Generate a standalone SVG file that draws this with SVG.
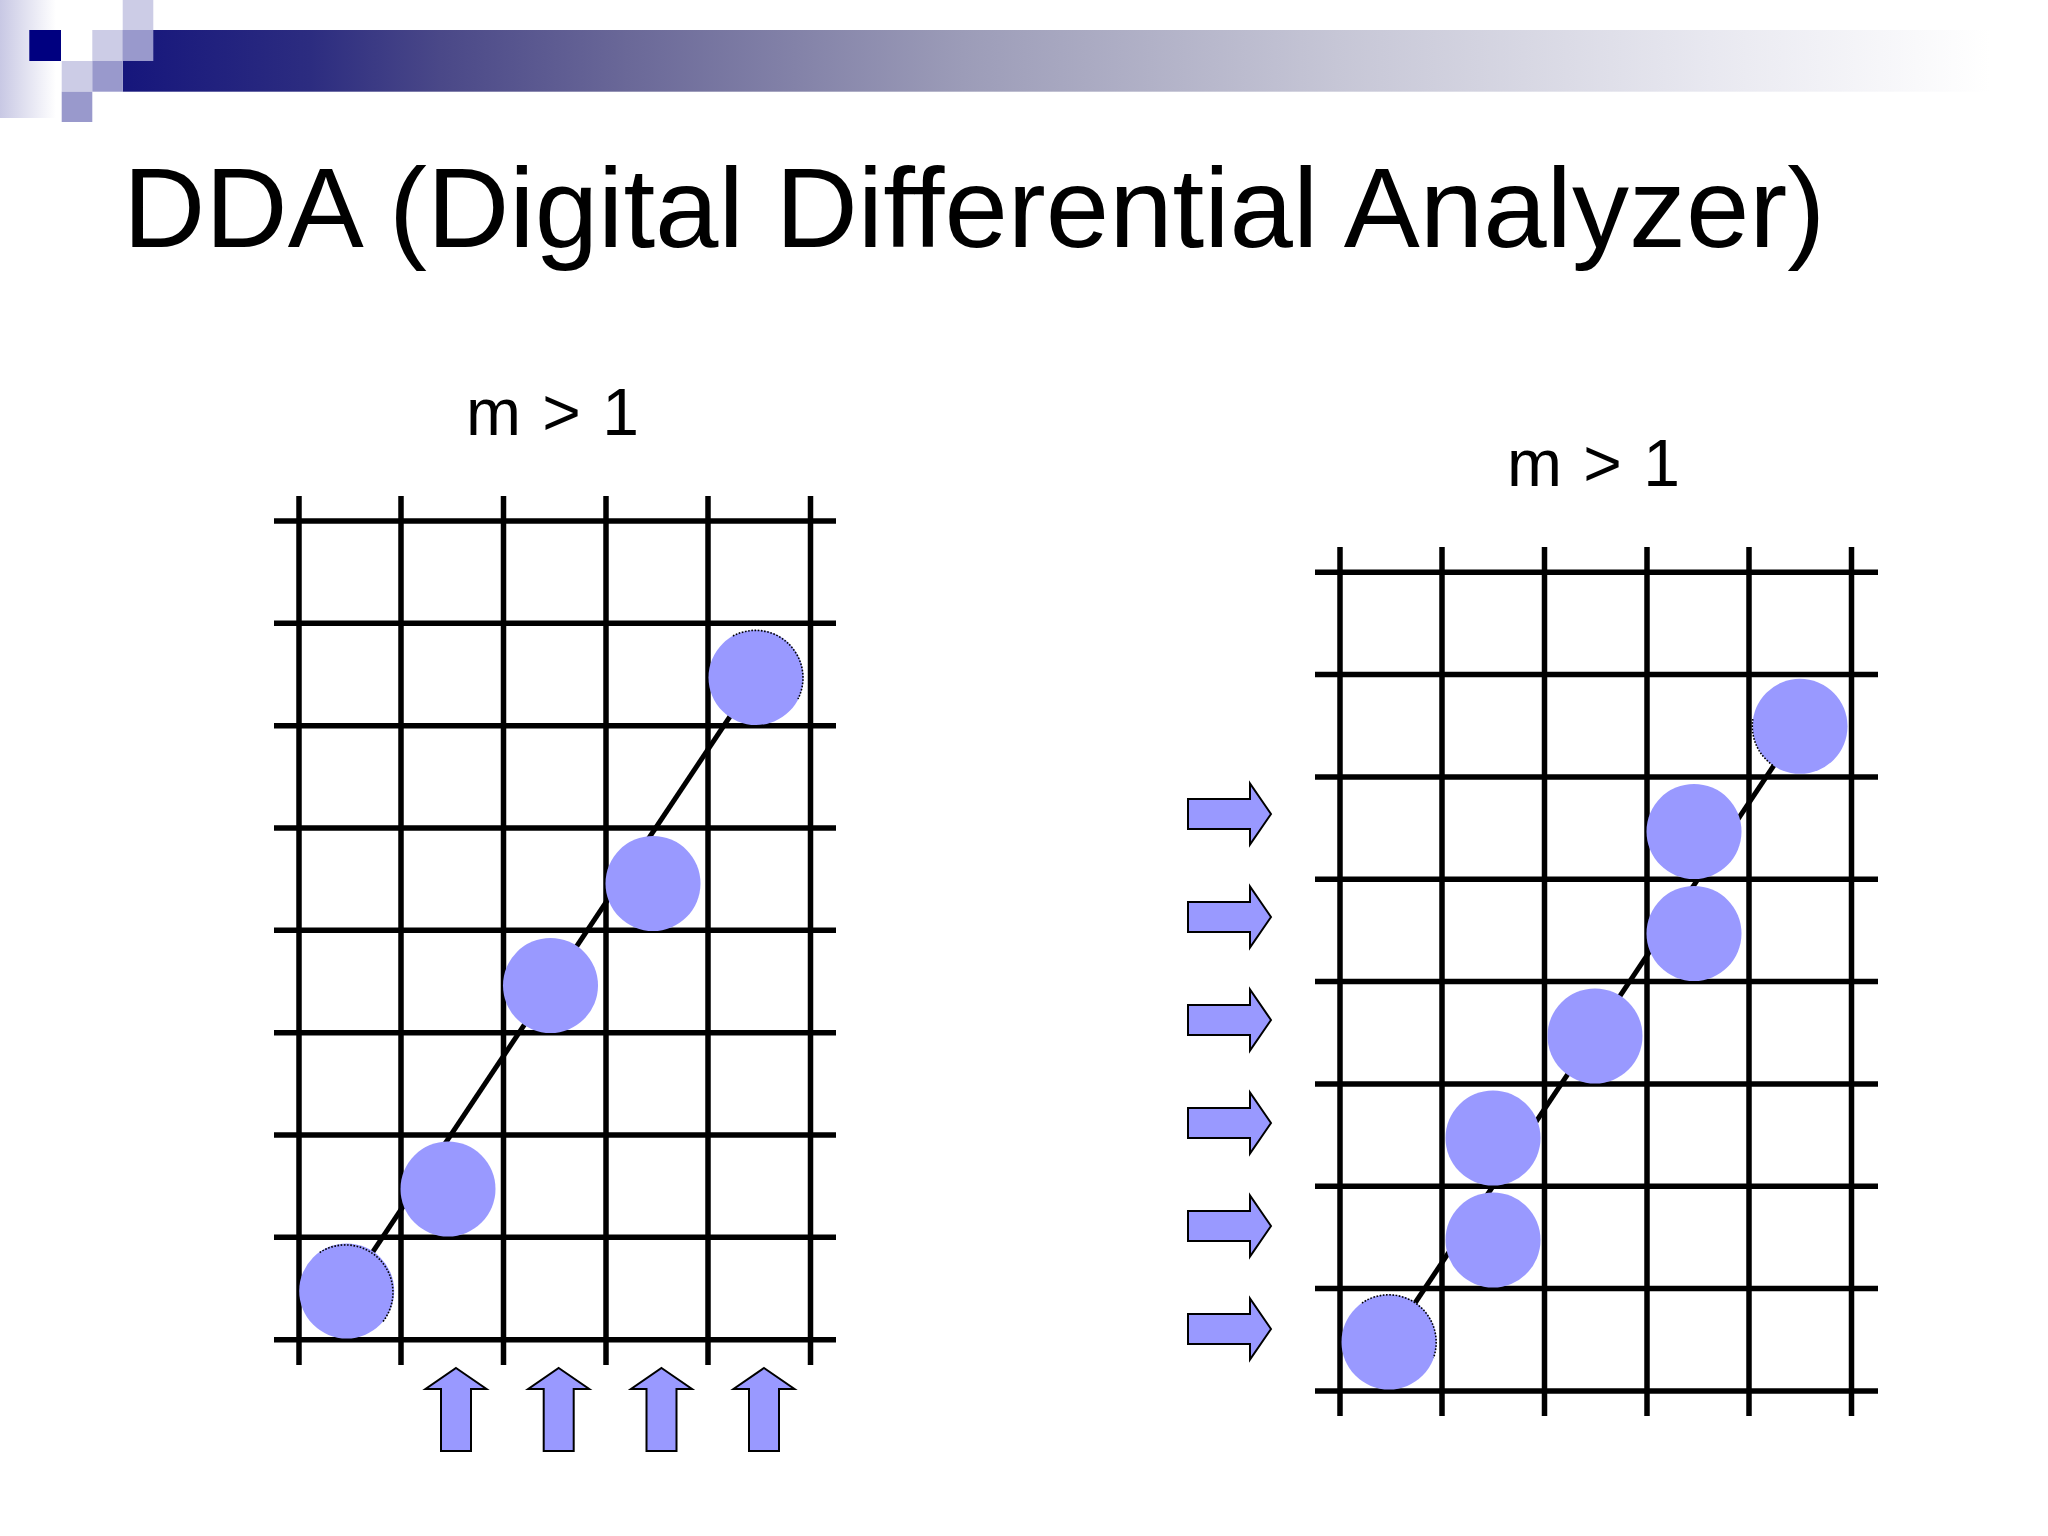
<svg xmlns="http://www.w3.org/2000/svg" width="2048" height="1536" viewBox="0 0 2048 1536">
<defs>
<linearGradient id="bar" gradientUnits="userSpaceOnUse" x1="123" y1="0" x2="1990" y2="0">
<stop offset="0" stop-color="#16167c"/>
<stop offset="0.1" stop-color="#2c2c80"/>
<stop offset="0.17" stop-color="#4a4888"/>
<stop offset="0.27" stop-color="#6a6898"/>
<stop offset="0.45" stop-color="#9c9cb8"/>
<stop offset="0.65" stop-color="#c6c6d6"/>
<stop offset="0.85" stop-color="#e8e8f0"/>
<stop offset="1" stop-color="#ffffff"/>
</linearGradient>
<linearGradient id="fade" x1="0" y1="0" x2="1" y2="0">
<stop offset="0" stop-color="#c8c8e4"/>
<stop offset="1" stop-color="#ffffff"/>
</linearGradient>
<path id="upArrow" d="M0,0 L30.5,21 L15,21 L15,83 L-15,83 L-15,21 L-30.5,21 Z"/>
<path id="rightArrow" d="M0,0 L-21,-30.5 L-21,-15 L-83,-15 L-83,15 L-21,15 L-21,30.5 Z"/>
</defs>
<style>
.grid line{stroke:#000;stroke-width:5.5}
.dot{fill:#9999ff}
.dotted{fill:none;stroke:#000;stroke-width:1.6;stroke-dasharray:1.6 1.6}
.arrow{fill:#9999ff;stroke:#000;stroke-width:2;stroke-linejoin:miter}
.conn{stroke:#000;stroke-width:5;fill:none}
.title{font-family:"Liberation Sans",Arial,sans-serif;font-size:114px;fill:#000}
.label{font-family:"Liberation Sans",Arial,sans-serif;font-size:66px;word-spacing:3px;fill:#000}
</style>
<rect width="2048" height="1536" fill="#fff"/>
<g id="header">
<rect x="0" y="0" width="56" height="118" fill="url(#fade)"/>
<rect x="122.7" y="30" width="1870" height="61.7" fill="url(#bar)"/>
<rect x="29.3" y="30" width="31.7" height="31" fill="#000080"/>
<rect x="92.3" y="30" width="30.4" height="31" fill="#ccccE6"/>
<rect x="122.7" y="0" width="30.6" height="30" fill="#ccccE6"/>
<rect x="122.7" y="30" width="30.6" height="31" fill="#9999cc"/>
<rect x="61.7" y="61" width="30.6" height="30.7" fill="#ccccE6"/>
<rect x="92.3" y="61" width="30.4" height="30.7" fill="#9999cc"/>
<rect x="61.7" y="91.7" width="30.6" height="30.3" fill="#9999cc"/>
</g>
<text id="title" class="title" x="123" y="247">DDA (Digital Differential Analyzer)</text>
<text id="label-left" class="label" x="466" y="435">m &gt; 1</text>
<text id="label-right" class="label" x="1507" y="486">m &gt; 1</text>
<g id="grid-left" class="grid">
<line x1="299" y1="496" x2="299" y2="1365"/>
<line x1="401" y1="496" x2="401" y2="1365"/>
<line x1="503.5" y1="496" x2="503.5" y2="1365"/>
<line x1="606" y1="496" x2="606" y2="1365"/>
<line x1="708" y1="496" x2="708" y2="1365"/>
<line x1="810.5" y1="496" x2="810.5" y2="1365"/>
<line x1="274" y1="521" x2="836" y2="521"/>
<line x1="274" y1="623.3" x2="836" y2="623.3"/>
<line x1="274" y1="725.7" x2="836" y2="725.7"/>
<line x1="274" y1="828" x2="836" y2="828"/>
<line x1="274" y1="930.3" x2="836" y2="930.3"/>
<line x1="274" y1="1032.7" x2="836" y2="1032.7"/>
<line x1="274" y1="1135" x2="836" y2="1135"/>
<line x1="274" y1="1237.3" x2="836" y2="1237.3"/>
<line x1="274" y1="1339.7" x2="836" y2="1339.7"/>
</g>
<g id="grid-right" class="grid">
<line x1="1340" y1="547" x2="1340" y2="1416"/>
<line x1="1442" y1="547" x2="1442" y2="1416"/>
<line x1="1544.5" y1="547" x2="1544.5" y2="1416"/>
<line x1="1647" y1="547" x2="1647" y2="1416"/>
<line x1="1749" y1="547" x2="1749" y2="1416"/>
<line x1="1851.5" y1="547" x2="1851.5" y2="1416"/>
<line x1="1315" y1="572.3" x2="1878" y2="572.3"/>
<line x1="1315" y1="674.6" x2="1878" y2="674.6"/>
<line x1="1315" y1="777" x2="1878" y2="777"/>
<line x1="1315" y1="879.3" x2="1878" y2="879.3"/>
<line x1="1315" y1="981.6" x2="1878" y2="981.6"/>
<line x1="1315" y1="1084" x2="1878" y2="1084"/>
<line x1="1315" y1="1186.3" x2="1878" y2="1186.3"/>
<line x1="1315" y1="1288.6" x2="1878" y2="1288.6"/>
<line x1="1315" y1="1391" x2="1878" y2="1391"/>
</g>
<g id="connectors">
<line id="line-left" class="conn" x1="346.7" y1="1291" x2="756" y2="677.5"/>
<line id="line-right" class="conn" x1="1389" y1="1342" x2="1800" y2="726.3"/>
</g>
<g id="pixel-l1"><circle class="dot" cx="346.7" cy="1291" r="47.5"/><path class="dotted" d="M319.7,1252.5 A47.5,47.5 0 0 1 383,1321.5"/></g>
<g id="pixel-l2"><circle class="dot" cx="448" cy="1189" r="47.5"/></g>
<g id="pixel-l3"><circle class="dot" cx="550.5" cy="985.5" r="47.5"/></g>
<g id="pixel-l4"><circle class="dot" cx="653" cy="883.5" r="47.5"/></g>
<g id="pixel-l5"><circle class="dot" cx="756" cy="677.5" r="47.5"/><path class="dotted" d="M733,636 A47.5,47.5 0 0 1 798,699"/></g>
<g id="pixel-r1"><circle class="dot" cx="1389" cy="1342" r="47.5"/><path class="dotted" d="M1362,1303 A47.5,47.5 0 0 1 1433.5,1358"/></g>
<g id="pixel-r2"><circle class="dot" cx="1493" cy="1240" r="47.5"/></g>
<g id="pixel-r3"><circle class="dot" cx="1493" cy="1138" r="47.5"/></g>
<g id="pixel-r4"><circle class="dot" cx="1595" cy="1036" r="47.5"/></g>
<g id="pixel-r5"><circle class="dot" cx="1694" cy="933.5" r="47.5"/></g>
<g id="pixel-r6"><circle class="dot" cx="1694" cy="831.5" r="47.5"/></g>
<g id="pixel-r7"><circle class="dot" cx="1800" cy="726.3" r="47.5"/><path class="dotted" d="M1772.8,765.2 A47.5,47.5 0 0 1 1753,718"/></g>
<g id="step-arrows-x">
<use class="arrow" href="#upArrow" transform="translate(456,1368)"/>
<use class="arrow" href="#upArrow" transform="translate(558.7,1368)"/>
<use class="arrow" href="#upArrow" transform="translate(661.5,1368)"/>
<use class="arrow" href="#upArrow" transform="translate(764,1368)"/>
</g>
<g id="step-arrows-y">
<use class="arrow" href="#rightArrow" transform="translate(1271,814)"/>
<use class="arrow" href="#rightArrow" transform="translate(1271,917)"/>
<use class="arrow" href="#rightArrow" transform="translate(1271,1020)"/>
<use class="arrow" href="#rightArrow" transform="translate(1271,1123)"/>
<use class="arrow" href="#rightArrow" transform="translate(1271,1226)"/>
<use class="arrow" href="#rightArrow" transform="translate(1271,1329)"/>
</g>
</svg>
